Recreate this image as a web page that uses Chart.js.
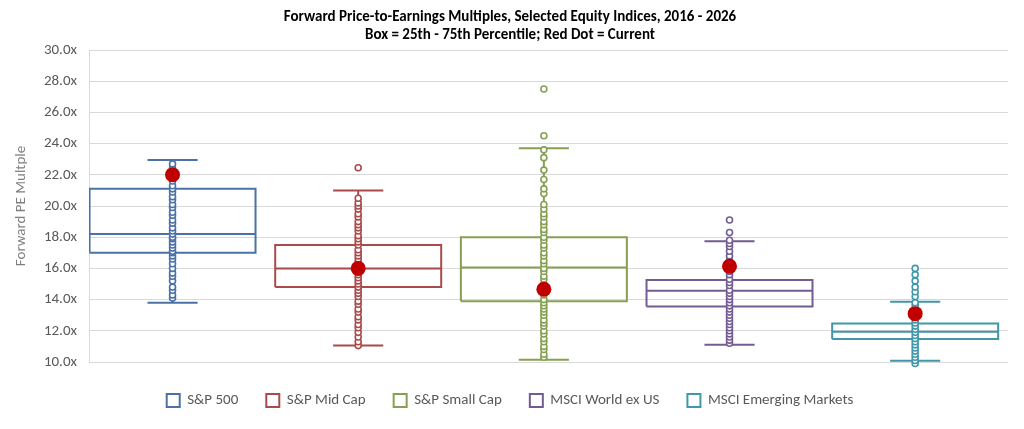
<!DOCTYPE html>
<html>
<head>
<meta charset="utf-8">
<script src="https://cdn.jsdelivr.net/npm/chart.js@4"></script>
<style>
  html, body { margin: 0; padding: 0; background: #fff; }
  #wrap { width: 1024px; height: 429px; }
</style>
</head>
<body>
<div id="wrap"><canvas id="peChart"></canvas></div>
<script>
// index names and colours
const indices = ['S&P 500', 'S&P Mid Cap', 'S&P Small Cap', 'MSCI World ex US', 'MSCI Emerging Markets'];
const colors = ['#4a72a6', '#a94b4b', '#86a052', '#735c92', '#4197a8'];

// box stats
const whiskerLow = [13.8, 11.05, 10.15, 11.1, 10.08];
const q1 = [17.0, 14.8, 13.9, 13.55, 11.47];
const median = [18.2, 16.0, 16.05, 14.57, 11.94];
const q3 = [21.1, 17.5, 18.0, 15.26, 12.46];
const whiskerHigh = [22.95, 21.0, 23.7, 17.74, 13.87];
const current = [22.0, 16.0, 14.66, 16.13, 13.1];

// individual monthly readings (approximate)
const spx = [14.1, 14.3, 14.6, 14.8, 15.2, 15.5, 15.7, 16.0, 16.3, 16.6, 16.8, 17.0, 17.1, 17.3, 17.5, 17.7, 17.9, 18.0, 18.2, 18.4, 18.6, 18.9, 19.1, 19.4, 19.6, 19.9, 20.1, 20.4, 20.6, 20.9, 21.1, 21.3, 21.6, 21.9, 22.2, 22.4, 22.7];
const mid = [11.05, 11.3, 11.6, 11.9, 12.2, 12.4, 12.7, 12.9, 13.2, 13.4, 13.7, 13.9, 14.2, 14.4, 14.6, 14.8, 15.0, 15.2, 15.4, 15.6, 15.8, 16.0, 16.2, 16.4, 16.6, 16.8, 17.0, 17.2, 17.5, 17.7, 17.9, 18.1, 18.4, 18.6, 18.8, 19.0, 19.3, 19.5, 19.8, 20.0, 20.2, 20.5, 22.45];
const small = [10.3, 10.5, 10.8, 11.0, 11.3, 11.5, 11.8, 12.0, 12.3, 12.5, 12.7, 13.0, 13.2, 13.4, 13.6, 13.8, 14.0, 14.3, 14.5, 14.8, 15.0, 15.3, 15.5, 15.8, 16.0, 16.3, 16.5, 16.8, 17.0, 17.3, 17.5, 17.8, 18.0, 18.3, 18.5, 18.8, 19.0, 19.3, 19.5, 19.8, 20.1, 20.8, 21.1, 21.7, 22.3, 23.1, 23.6, 24.5, 27.5];
const world = [11.2, 11.4, 11.6, 11.8, 12.0, 12.2, 12.4, 12.6, 12.8, 13.0, 13.2, 13.4, 13.6, 13.8, 14.0, 14.2, 14.4, 14.6, 14.9, 15.1, 15.3, 15.6, 15.8, 16.0, 16.3, 16.5, 16.8, 17.1, 17.4, 17.6, 17.8, 18.3, 19.1];
const em = [9.9, 10.1, 10.3, 10.5, 10.7, 10.9, 11.1, 11.3, 11.5, 11.7, 11.9, 12.1, 12.3, 12.5, 12.7, 12.9, 13.2, 13.4, 13.6, 13.8, 14.2, 14.5, 14.8, 15.2, 15.6, 16.0];
const readings = [spx, mid, small, world, em];

const yTicks = [10, 12, 14, 16, 18, 20, 22, 24, 26, 28, 30];

const boxHalf = 0.447;
const capHalf = 0.135;
const font = "Carlito, Calibri, Lato, 'Liberation Sans', sans-serif";

function boxPath(i) {
  const gap = { x: i, y: null };
  return [
    { x: i - boxHalf, y: q1[i] }, { x: i + boxHalf, y: q1[i] },
    { x: i + boxHalf, y: q3[i] }, { x: i - boxHalf, y: q3[i] },
    { x: i - boxHalf, y: q1[i] }, gap,
    { x: i - boxHalf, y: median[i] }, { x: i + boxHalf, y: median[i] }, gap,
    { x: i, y: whiskerLow[i] }, { x: i, y: whiskerHigh[i] }, gap,
    { x: i - capHalf, y: whiskerHigh[i] }, { x: i + capHalf, y: whiskerHigh[i] }, gap,
    { x: i - capHalf, y: whiskerLow[i] }, { x: i + capHalf, y: whiskerLow[i] }
  ];
}

const datasets = [];
indices.forEach((name, i) => {
  datasets.push({
    label: name,
    kind: 'box',
    data: boxPath(i),
    borderColor: colors[i],
    backgroundColor: '#ffffff',
    borderWidth: 2,
    pointRadius: 0,
    spanGaps: false,
    fill: false,
    order: 3
  });
  datasets.push({
    label: name + ' readings',
    data: readings[i].map(v => ({ x: i, y: v })),
    showLine: false,
    borderColor: colors[i],
    backgroundColor: '#ffffff',
    pointRadius: 3,
    pointBorderWidth: 1.6,
    clip: false,
    order: 2
  });
});
datasets.push({
  label: 'Current',
  data: current.map((v, i) => ({ x: i, y: v })),
  showLine: false,
  borderColor: '#c00000',
  backgroundColor: '#c00000',
  pointRadius: 7.5,
  pointBorderWidth: 0,
  clip: false,
  order: 1
});

const ctx = document.getElementById('peChart').getContext('2d');
new Chart(ctx, {
  type: 'line',
  data: { datasets: datasets },
  options: {
    responsive: true,
    maintainAspectRatio: false,
    animation: false,
    layout: { padding: { left: 12, right: 16, top: 2, bottom: 11 } },
    plugins: {
      title: {
        display: true,
        text: ['Forward Price-to-Earnings Multiples, Selected Equity Indices, 2016 - 2026',
               'Box = 25th - 75th Percentile; Red Dot = Current'],
        color: '#000000',
        font: { family: font, size: 15, weight: 'bold', lineHeight: 1.2 },
        padding: { top: 6, bottom: 6 }
      },
      legend: {
        position: 'bottom',
        labels: {
          filter: (item, data) => data.datasets[item.datasetIndex].kind === 'box',
          boxWidth: 13,
          boxHeight: 13,
          padding: 28,
          color: '#595959',
          font: { family: font, size: 15 }
        }
      },
      tooltip: { enabled: false }
    },
    scales: {
      x: {
        type: 'linear',
        min: -0.45,
        max: 4.5,
        ticks: { display: false },
        grid: { display: false },
        border: { display: false },
        afterFit: axis => { axis.height = 3; }
      },
      y: {
        min: 10,
        max: 30,
        afterBuildTicks: axis => { axis.ticks = yTicks.map(v => ({ value: v })); },
        afterFit: axis => { axis.width = 77; },
        ticks: {
          color: '#595959',
          font: { family: font, size: 15 },
          padding: 12,
          callback: v => v.toFixed(1) + 'x'
        },
        grid: { color: '#d9d9d9', drawTicks: false },
        border: { color: '#d9d9d9' },
        title: {
          display: true,
          text: 'Forward PE Multple',
          color: '#7f7f7f',
          font: { family: font, size: 15 },
          padding: 0
        }
      }
    }
  }
});
</script>
</body>
</html>
